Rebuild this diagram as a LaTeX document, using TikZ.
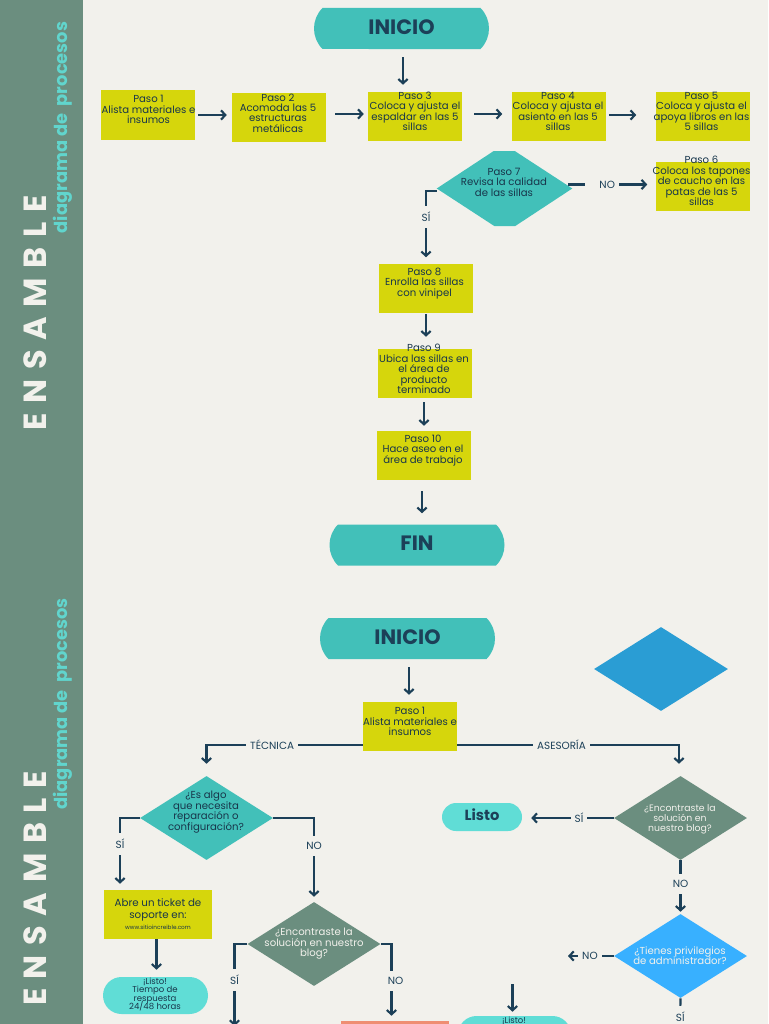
\documentclass[tikz,border=0pt]{standalone}
\usepackage{fontspec}
\setmainfont{Poppins}
\usetikzlibrary{shapes.geometric,shapes.misc,arrows.meta}
\definecolor{fondo}{HTML}{F2F1EC}
\definecolor{salvia}{HTML}{6B8E7F}
\definecolor{turquesa}{HTML}{42C0B9}
\definecolor{aguamar}{HTML}{60DDD6}
\definecolor{amarillo}{HTML}{D6D60C}
\definecolor{tinta}{HTML}{1C4058}
\definecolor{celeste}{HTML}{38B0FF}
\definecolor{azul}{HTML}{2A9DD4}
\definecolor{coral}{HTML}{EF8E73}
\def \px {0.75pt}
\tikzstyle{paso} = [rectangle,fill=amarillo,inner sep=0,minimum width=94*\px,minimum height=49*\px]
\tikzstyle{extremo} = [rounded rectangle,rounded rectangle arc length=90,fill=turquesa,inner sep=0,minimum width=175*\px,minimum height=41*\px]
\tikzstyle{pildora} = [rounded rectangle,fill=aguamar,inner sep=0]
\tikzstyle{rombo} = [diamond,inner sep=0,minimum width=133*\px,minimum height=84*\px]
\tikzstyle{texto} = [align=center,text=tinta!85!black,font=\fontsize{7.6}{7.8}\selectfont,inner sep=0,yshift=-\px,execute at begin node={\lineskiplimit=-10pt}]
\tikzstyle{textoclaro} = [texto,text=fondo]
\tikzstyle{titulo} = [text=tinta,font=\fontsize{15.6}{15.6}\selectfont\bfseries,inner sep=0]
\tikzstyle{marca} = [rotate=90,text=fondo,inner sep=0,font=\fontsize{24}{24}\selectfont\bfseries\addfontfeature{LetterSpace=30}]
\tikzstyle{subtitulo} = [rotate=90,text=aguamar!90!salvia,inner sep=0,font=\fontsize{13.4}{13.4}\selectfont\bfseries]
\tikzstyle{flecha} = [-{Straight Barb[length=3.2pt,width=7pt]},line width=1.6pt,color=tinta]
\tikzstyle{etiqueta} = [fill=fondo,text=tinta,font=\fontsize{7.8}{7.8}\selectfont,inner xsep=4*\px,inner ysep=6*\px]

\begin{document}
\begin{tikzpicture}[x=0.75pt,y=-0.75pt]
  \useasboundingbox (0,0) rectangle (768,1024);
  \clip (0,0) rectangle (768,1024);
  \fill[fondo] (0,0) rectangle (768,1024);
  \fill[salvia] (0,0) rectangle (83,1024);

  % barra lateral
  \node[marca] (marca1) at (35,313) {ENSAMBLE};
  \node[marca] (marca2) at (35,888.5) {ENSAMBLE};
  \node[subtitulo] (sub1) at (62.5,127.5) {diagrama de\ \ procesos};
  \node[subtitulo] (sub2) at (62.5,704) {diagrama de\ \ procesos};

  % primer diagrama
  \node[extremo] (i1) at (401.5,28.5) {};
  \node[paso] (p1) at (148,115) {};
  \node[paso] (p2) at (279,117.5) {};
  \node[paso] (p3) at (415,116.5) {};
  \node[paso] (p4) at (558.5,116.5) {};
  \node[paso] (p5) at (702.5,116.5) {};
  \node[paso] (p6) at (702.5,186) {};
  \node[paso] (p8) at (426,288) {};
  \node[paso] (p9) at (425,373.5) {};
  \node[paso] (p10) at (424,455.5) {};
  \node[extremo] (f1) at (417,545) {};
  \node[inner sep=0,minimum width=135*\px,minimum height=75*\px] (d7) at (504.5,188.5) {};
  \fill[turquesa] (d7.west) -- ++(57,-37.5) -- ++(21,0) -- (d7.east) -- ++(-57,37.5) -- ++(-21,0) -- cycle;

  \node[titulo] (i1t) at (401.5,27) {INICIO};
  \node[titulo] (f1t) at (417,543) {FIN};
  \node[texto] (p1t) at (148.5,108.5) {Paso 1\\Alista materiales e\\insumos};
  \node[texto] (p2t) at (278,112) {Paso 2\\Acomoda las 5\\estructuras\\metálicas};
  \node[texto] (p3t) at (415,110.5) {Paso 3\\Coloca y ajusta el\\espaldar en las 5\\sillas};
  \node[texto] (p4t) at (558,110.5) {Paso 4\\Coloca y ajusta el\\asiento en las 5\\sillas};
  \node[texto] (p5t) at (701.5,110.5) {Paso 5\\Coloca y ajusta el\\apoya libros en las\\5 sillas};
  \node[texto] (p6t) at (701.5,180) {Paso 6\\Coloca los tapones\\de caucho en las\\patas de las 5\\sillas};
  \node[texto] (d7t) at (504,181) {Paso 7\\Revisa la calidad\\de las sillas};
  \node[texto] (p8t) at (424.5,282.5) {Paso 8\\Enrolla las sillas\\con vinipel};
  \node[texto] (p9t) at (424,368) {Paso 9\\Ubica las sillas en\\el área de\\producto\\terminado};
  \node[texto] (p10t) at (423,449.5) {Paso 10\\Hace aseo en el\\área de trabajo};

  \draw[flecha,shorten <=8*\px,shorten >=7*\px] (403,0 |- i1.south) -- (403,0 |- p3.north);
  \draw[flecha,shorten <=3*\px,shorten >=5*\px] (p1.east |- 0,115) -- (p2.west |- 0,115);
  \draw[flecha,shorten <=9*\px,shorten >=4*\px] (p2.east |- 0,114) -- (p3.west |- 0,114);
  \draw[flecha,shorten <=12*\px,shorten >=9*\px] (p3.east |- 0,114) -- (p4.west |- 0,114);
  \draw[flecha,shorten <=3*\px,shorten >=19*\px] (p4.east |- 0,115) -- (p5.west |- 0,115);
  \draw[flecha,shorten <=-4*\px,shorten >=8*\px] (d7.east |- 0,184.5) -- node[etiqueta,pos=.357] (no7) {\hspace{8pt}NO} (p6.west |- 0,184.5);
  \draw[flecha,shorten >=6*\px] (d7.west |- 0,191) -| node[etiqueta,pos=.68] (si7) {SÍ} (p8.north);
  \draw[flecha,shorten <=1*\px,shorten >=12*\px] (p8.south) -- (p8.south |- p9.north);
  \draw[flecha,shorten <=4*\px,shorten >=5*\px] (p10.north |- p9.south) -- (p10.north);
  \draw[flecha,shorten <=11*\px,shorten >=11*\px] (422,0 |- p10.south) -- (422,0 |- f1.north);

  % segundo diagrama
  \node[extremo] (i2) at (407.5,638.5) {};
  \node[paso] (q1) at (410,726.5) {};
  \node[rombo,fill=azul,minimum width=134*\px] (d5) at (661,669) {};
  \node[rombo,fill=turquesa] (d1) at (206.5,818) {};
  \node[rombo,fill=salvia] (d2) at (314,944) {};
  \node[rombo,fill=salvia] (d3) at (680.5,818) {};
  \node[rombo,fill=celeste] (d4) at (680.5,956) {};
  \node[paso,minimum width=108*\px] (t1) at (158,914.5) {};
  \node[pildora,minimum width=105*\px,minimum height=37*\px] (l1) at (155.5,995.5) {};
  \node[pildora,minimum width=80*\px,minimum height=28*\px] (l2) at (482,817) {};
  \node[pildora,minimum width=113*\px,minimum height=37*\px] (l3) at (514.5,1034.5) {};
  \node[paso,fill=coral,minimum width=108*\px,minimum height=39*\px] (o1) at (395,1040.5) {};

  \node[titulo] (i2t) at (407.5,637) {INICIO};
  \node[texto] (q1t) at (410,720.5) {Paso 1\\Alista materiales e\\insumos};
  \node[texto,font=\fontsize{7.6}{8}\selectfont] (d1t) at (206,811) {¿Es algo\\que necesita\\reparación o\\configuración?};
  \node[textoclaro] (d2t) at (314,943) {¿Encontraste la\\solución en nuestro\\blog?};
  \node[textoclaro,font=\fontsize{7}{7.7}\selectfont] (d3t) at (680,818.5) {¿Encontraste la\\solución en\\nuestro blog?};
  \node[textoclaro,font=\fontsize{7.6}{7.6}\selectfont] (d4t) at (680,955) {¿Tienes privilegios\\de administrador?};
  \node[texto,font=\fontsize{7.7}{8.6}\selectfont] (t1t) at (158,909) {Abre un ticket de\\soporte en:};
  \node[texto,font=\fontsize{4.3}{4.4}\selectfont] (t1u) at (158,926) {www.sitioincreible.com};
  \node[texto,font=\fontsize{6.4}{6.2}\selectfont] (l1t) at (155,993.5) {¡Listo!\\Tiempo de\\respuesta\\24/48 horas};
  \node[titulo,font=\fontsize{11}{11}\selectfont\bfseries] (l2t) at (482,815) {Listo};
  \node[texto,font=\fontsize{6.4}{6.2}\selectfont] (l3t) at (514,1020) {¡Listo!};

  \coordinate (d2s) at (234.5,1026);
  \coordinate (c2) at (512.5,984);
  \coordinate (c3) at (568,956);
  \coordinate (c4) at (680,1040);

  \draw[flecha,shorten <=8*\px,shorten >=7*\px] (409,0 |- i2.south) -- (409,0 |- q1.north);
  \draw[flecha,shorten >=12*\px] (q1.west |- 0,745) -| node[etiqueta,pos=.29] (tec) {TÉCNICA} (d1.north);
  \draw[flecha,shorten >=12*\px] (q1.east |- 0,745) -| node[etiqueta,pos=.235] (ase) {ASESORÍA} (d3.north -| 679,0);
  \draw[flecha,shorten >=6*\px] (d1.west) -| node[etiqueta,pos=.68] (si1) {SÍ} (120,0 |- t1.north);
  \draw[flecha,shorten >=5*\px] (d1.east) -| node[etiqueta,pos=.667] (no1) {NO} (d2.north);
  \draw[flecha,shorten >=7*\px] (156.5,0 |- t1.south) -- (156.5,0 |- l1.north);
  \draw[flecha] (d2.west) -| node[etiqueta,pos=.72] (si2) {SÍ} (d2s);
  \draw[flecha,shorten >=5*\px] (d2.east) -| node[etiqueta,pos=.74,xshift=4*\px] (no2) {NO} (391.5,0 |- o1.north);
  \draw[flecha,shorten >=4*\px] (c2) -- (c2 |- l3.north);
  \draw[flecha,shorten >=9*\px] (d3.west) -- node[etiqueta,pos=.38] (si3) {SÍ} (d3.west -| l2.east);
  \draw[flecha,shorten >=2*\px] (d3.south) -- node[etiqueta,pos=.44] (no3) {NO} (d4.north);
  \draw[flecha] (d4.west) -- node[etiqueta,pos=.52] (no4) {NO} (c3);
  \draw[flecha] (d4.south) -- node[etiqueta,pos=.45] (si4) {SÍ} (c4);
\end{tikzpicture}
\end{document}
